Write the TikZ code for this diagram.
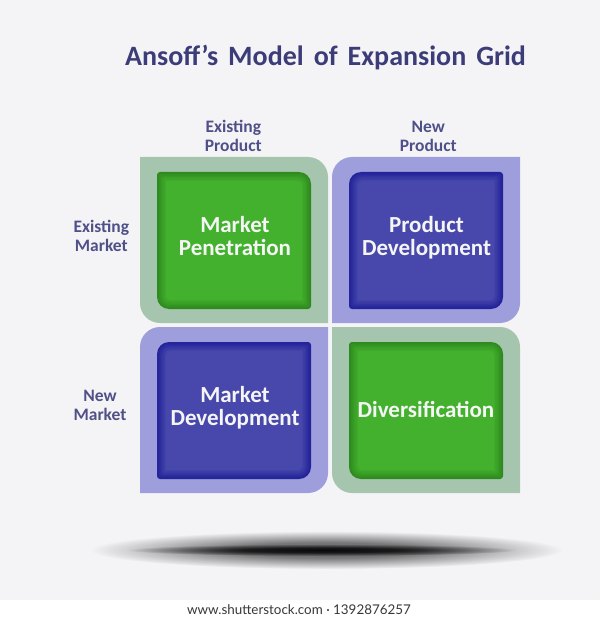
\documentclass[tikz,border=0pt]{standalone}
\usepackage{fontspec}
\setmainfont{Carlito}
\newfontfamily\creditfont{Lato}
\usetikzlibrary{fadings}

\definecolor{bgcol}{HTML}{F4F4F7}
\definecolor{sagefr}{HTML}{A5C5AF}
\definecolor{lilacfr}{HTML}{9E9EDC}
\definecolor{greenhi}{HTML}{43B12D}
\definecolor{greenlo}{HTML}{2E8A1F}
\definecolor{bluehi}{HTML}{4848AC}
\definecolor{bluelo}{HTML}{23239A}
\definecolor{titlecol}{HTML}{3C3C78}
\definecolor{labelcol}{HTML}{505088}

\pgfdeclareradialshading{shadowfadeshade}{\pgfpoint{0bp}{0bp}}{color(0bp)=(white); color(10bp)=(white!85!black); color(18bp)=(white!40!black); color(25bp)=(black); color(50bp)=(black)}
\pgfdeclarefading{shadowfade}{\pgfuseshading{shadowfadeshade}}

% x1 y1 x2 y2, then corner radii TL TR BR BL
\newcommand{\gridleaf}[8]{({#1},{(#2+#4)/2}) [rounded corners={#5}] -- ({#1},{#2}) -- ({(#1+#3)/2},{#2}) [rounded corners={#6}] -- ({#3},{#2}) -- ({#3},{(#2+#4)/2}) [rounded corners={#7}] -- ({#3},{#4}) -- ({(#1+#3)/2},{#4}) [rounded corners={#8}] -- ({#1},{#4}) -- cycle}

% x0 y0 frame dark light, round TL/BR, round TR/BL
\newcommand{\quadtile}[7]{%
  \fill[#3] \gridleaf{#1}{#2}{#1+188}{#2+166}{#6*20pt+0.01pt}{#7*20pt+0.01pt}{#6*20pt+0.01pt}{#7*20pt+0.01pt};
  \foreach \k in {0,...,7}{
    \pgfmathtruncatemacro\tint{100*\k/7}
    \fill[#5!\tint!#4] \gridleaf{#1+17+1.3*\k}{#2+15+1.3*\k}{#1+171-1.3*\k}{#2+152-1.3*\k}{(3-0.35*\k+#6*(9-0.75*\k))*1pt}{(3-0.35*\k+#7*(9-0.75*\k))*1pt}{(3-0.35*\k+#6*(9-0.75*\k))*1pt}{(3-0.35*\k+#7*(9-0.75*\k))*1pt};
  }}

\tikzset{
  heading/.style={font=\bfseries\fontsize{28}{30}\selectfont, text=titlecol, inner sep=0pt},
  axislabel/.style={font=\bfseries\fontsize{17.5}{19}\selectfont, text=labelcol, align=center, inner sep=0pt},
  tiletext/.style={font=\bfseries\fontsize{23}{23}\selectfont, text=white!96!black, align=center, inner sep=0pt},
  credit/.style={font=\creditfont\fontsize{13.4}{15}\selectfont, text=black!78, inner sep=0pt}
}

\begin{document}
\begin{tikzpicture}[x=1pt,y=-1pt]
\useasboundingbox (0,0) rectangle (600,620);
\fill[bgcol] (0,0) rectangle (600,600);
\fill[white] (0,600) rectangle (600,620);

\fill[black, opacity=0.6, path fading=shadowfade] (326.5,550) ellipse [x radius=236pt, y radius=19pt];
\fill[black, opacity=0.9, path fading=shadowfade] (322,550) ellipse [x radius=195pt, y radius=6pt];

\quadtile{140}{157}{sagefr}{greenlo}{greenhi}{0}{1}
\quadtile{332}{157}{lilacfr}{bluelo}{bluehi}{1}{0}
\quadtile{140}{327}{lilacfr}{bluelo}{bluehi}{1}{0}
\quadtile{332}{327}{sagefr}{greenlo}{greenhi}{0}{1}

\node[heading, anchor=base] (title) at (325.5,65.5) {\spaceskip=10pt\relax Ansoff’s Model of Expansion Grid};
\node[axislabel] (colexist) at (233.3,136) {Existing\\Product};
\node[axislabel] (colnew) at (428.3,136) {New\\Product};
\node[axislabel] (rowexist) at (101.3,236) {Existing\\Market};
\node[axislabel] (rownew) at (100,405.3) {New\\Market};
\node[tiletext] (penetration) at (235,235.7) {Market\\Penetration};
\node[tiletext] (proddev) at (426.5,237.5) {Product\\Development};
\node[tiletext] (mktdev) at (235,408) {Market\\Development};
\node[tiletext] (diversify) at (426,409) {Diversification};
\node[credit, anchor=base] (stockref) at (299,614) {www.shutterstock.com · 1392876257};
\end{tikzpicture}
\end{document}
